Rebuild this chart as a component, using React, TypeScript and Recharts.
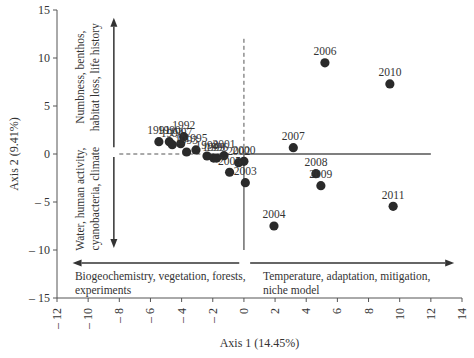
import React from 'react';
import { ScatterChart, Scatter, XAxis, YAxis, ReferenceLine, ReferenceDot, LabelList } from 'recharts';

// years and their scores on the two axes
const years = [
  '1991', '1990', '1994', '1992', '1997', '1993', '1995', '1998', '1999', '1996', '2001',
  '2005', '2002', '2000', '2003', '2004', '2006', '2007', '2008', '2009', '2010', '2011',
];
const axis1Scores = [
  -5.46, -4.79, -4.6, -3.87, -4.06, -3.68, -3.08, -2.37, -1.94, -1.75, -1.28,
  -0.92, -0.34, 0.0, 0.09, 1.93, 5.2, 3.17, 4.62, 4.94, 9.37, 9.58,
];
const axis2Scores = [
  1.28, 1.28, 0.97, 1.8, 1.07, 0.21, 0.42, -0.21, -0.42, -0.42, -0.17,
  -1.9, -0.9, -0.76, -2.99, -7.5, 9.5, 0.66, -2.05, -3.3, 7.3, -5.45,
];
const xTicks = [-12, -10, -8, -6, -4, -2, 0, 2, 4, 6, 8, 10, 12, 14];
const yTicks = [-15, -10, -5, 0, 5, 10, 15];

const data = years.map((year, i) => ({ year, x: axis1Scores[i], y: axis2Scores[i] }));

const FONT = '"Liberation Serif", "DejaVu Serif", serif';
const INK = '#333';
const LINE = '#555';

const fmt = (v: number) => (v < 0 ? `\u2013 ${Math.abs(v)}` : `${v}`);

const XTick = (props: any) => {
  const { x, y, payload } = props;
  return (
    <text x={x} y={y} transform={`rotate(-90, ${x}, ${y})`} textAnchor="end" dominantBaseline="central"
      fontSize={12} fontFamily={FONT} fill={INK}>
      {fmt(payload.value)}
    </text>
  );
};

const YTick = (props: any) => {
  const { x, y, payload } = props;
  return (
    <text x={x} y={y} textAnchor="end" dominantBaseline="central" fontSize={12} fontFamily={FONT} fill={INK}>
      {fmt(payload.value)}
    </text>
  );
};

// line with a filled arrow head at the second end
const Arrow = (props: any) => {
  const { x1, y1, x2, y2 } = props;
  const a = Math.atan2(y2 - y1, x2 - x1);
  const len = 9, w = 3.5;
  const bx = x2 - len * Math.cos(a), by = y2 - len * Math.sin(a);
  const px = -Math.sin(a) * w, py = Math.cos(a) * w;
  return (
    <g>
      <line x1={x1} y1={y1} x2={bx} y2={by} stroke={INK} strokeWidth={1.5} />
      <polygon points={`${x2},${y2} ${bx + px},${by + py} ${bx - px},${by - py}`} fill={INK} />
    </g>
  );
};

const note = (text: string, vertical: boolean, anchor = 'middle') => (p: any) => {
  const vb = p.viewBox;
  const cx = vb.x + vb.width / 2;
  const cy = vb.y + vb.height / 2;
  return (
    <text x={cx} y={cy} transform={vertical ? `rotate(-90, ${cx}, ${cy})` : undefined}
      textAnchor={anchor} dominantBaseline="central" fontSize={11.5} fontFamily={FONT} fill={INK}>
      {text}
    </text>
  );
};

const App = () => (
  <div style={{ position: 'absolute', left: 0, top: 0, width: 474, height: 358, background: '#fff' }}>
    <ScatterChart width={474} height={358} margin={{ top: 10, right: 12, bottom: 10, left: 12 }}>
      <XAxis type="number" dataKey="x" domain={[-12, 14]} ticks={xTicks} interval={0}
        height={50} tickSize={4} tickMargin={6} tick={<XTick />}
        axisLine={{ stroke: LINE }} tickLine={{ stroke: LINE }}
        label={{
          content: (p: any) => (
            <text x={p.viewBox.x + p.viewBox.width / 2} y={p.viewBox.y + 45} textAnchor="middle"
              dominantBaseline="central" fontSize={12} fontFamily={FONT} fill={INK}>
              Axis 1 (14.45%)
            </text>
          ),
        }} />
      <YAxis type="number" dataKey="y" domain={[-15, 15]} ticks={yTicks} interval={0}
        width={45} tickSize={4} tickMargin={3} tick={<YTick />}
        axisLine={{ stroke: LINE }} tickLine={{ stroke: LINE }}
        label={{
          content: (p: any) => {
            const x = p.viewBox.x + 2;
            const y = p.viewBox.y + p.viewBox.height / 2;
            return (
              <text x={x} y={y} transform={`rotate(-90, ${x}, ${y})`} textAnchor="middle"
                dominantBaseline="central" fontSize={12} fontFamily={FONT} fill={INK}>
                Axis 2 (9.41%)
              </text>
            );
          },
        }} />

      <ReferenceLine segment={[{ x: -8, y: 0 }, { x: 0, y: 0 }]} stroke={LINE} strokeDasharray="4 3" />
      <ReferenceLine segment={[{ x: 0, y: 0 }, { x: 12, y: 0 }]} stroke={LINE} strokeWidth={1.3} />
      <ReferenceLine segment={[{ x: 0, y: 12 }, { x: 0, y: 0 }]} stroke={LINE} strokeDasharray="4 3" />
      <ReferenceLine segment={[{ x: 0, y: 0 }, { x: 0, y: -10 }]} stroke={LINE} strokeWidth={1.3} />

      <ReferenceLine segment={[{ x: -8.35, y: 0.7 }, { x: -8.35, y: 14.2 }]} shape={<Arrow />} />
      <ReferenceLine segment={[{ x: -8.35, y: -0.3 }, { x: -8.35, y: -9.8 }]} shape={<Arrow />} />
      <ReferenceLine segment={[{ x: -0.3, y: -11.35 }, { x: -11.0, y: -11.35 }]} shape={<Arrow />} />
      <ReferenceLine segment={[{ x: 0.4, y: -11.35 }, { x: 13.5, y: -11.35 }]} shape={<Arrow />} />

      <ReferenceDot x={-10.5} y={8} r={0} fill="none" stroke="none" label={note('Numbness, benthos,', true)} />
      <ReferenceDot x={-9.55} y={8} r={0} fill="none" stroke="none" label={note('habitat loss, life history', true)} />
      <ReferenceDot x={-10.5} y={-4.7} r={0} fill="none" stroke="none" label={note('Water, human activity,', true)} />
      <ReferenceDot x={-9.55} y={-4.65} r={0} fill="none" stroke="none" label={note('cyanobacteria, climate', true)} />
      <ReferenceDot x={-10.85} y={-12.75} r={0} fill="none" stroke="none" label={note('Biogeochemistry, vegetation, forests,', false, 'start')} />
      <ReferenceDot x={-10.85} y={-14.2} r={0} fill="none" stroke="none" label={note('experiments', false, 'start')} />
      <ReferenceDot x={1.22} y={-12.75} r={0} fill="none" stroke="none" label={note('Temperature, adaptation, mitigation,', false, 'start')} />
      <ReferenceDot x={1.22} y={-14.2} r={0} fill="none" stroke="none" label={note('niche model', false, 'start')} />

      <Scatter data={data} isAnimationActive={false}
        shape={(p: any) => <circle cx={p.cx} cy={p.cy} r={4.6} fill="#2a2a2a" />}>
        <LabelList dataKey="year" position="top" offset={3}
          style={{ fontSize: 11.5, fontFamily: FONT, fill: INK }} />
      </Scatter>
    </ScatterChart>
  </div>
);

export default App;
